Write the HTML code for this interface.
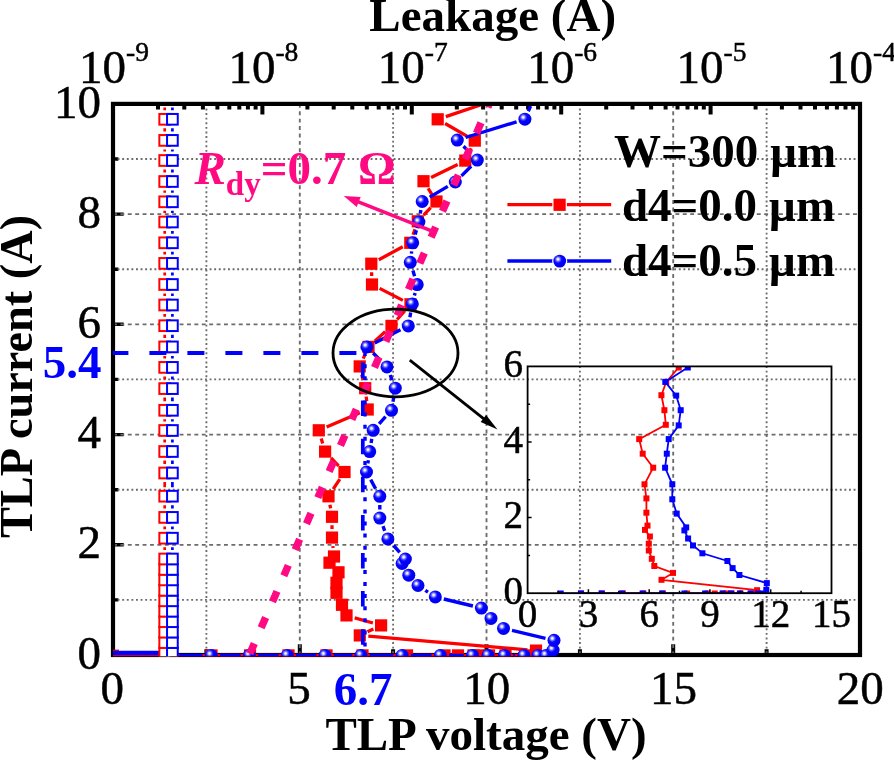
<!DOCTYPE html><html><head><meta charset="utf-8"><title>TLP</title><style>html,body{margin:0;padding:0;background:#fff}body{width:894px;height:761px;overflow:hidden}</style></head><body><svg width="894" height="761" viewBox="0 0 894 761" style="display:block">
<defs>
<radialGradient id="sph" cx="0.37" cy="0.36" r="0.55" fx="0.37" fy="0.35">
<stop offset="0" stop-color="#ffffff"/><stop offset="0.13" stop-color="#e6e6ff"/><stop offset="0.34" stop-color="#5a5aff"/><stop offset="0.55" stop-color="#0606ff"/><stop offset="1" stop-color="#0000f4"/>
</radialGradient>
<clipPath id="clip"><rect x="113" y="105.9" width="747" height="550.3"/></clipPath>
<clipPath id="iclip"><rect x="527.6" y="366.4" width="303.9" height="226.8"/></clipPath>
</defs>
<rect width="894" height="761" fill="#fff"/>
<path d="M299.8 655.0V644.3M486.5 655.0V644.3M673.2 655.0V644.3M206.4 655.0V649.3M393.1 655.0V649.3M579.9 655.0V649.3M766.6 655.0V649.3M158.0 103.9V109.60000000000001M184.3 103.9V109.60000000000001M202.9 103.9V109.60000000000001M217.4 103.9V109.60000000000001M229.3 103.9V109.60000000000001M239.3 103.9V109.60000000000001M247.9 103.9V109.60000000000001M255.6 103.9V109.60000000000001M262.4 103.9V114.60000000000001M307.4 103.9V109.60000000000001M333.7 103.9V109.60000000000001M352.3 103.9V109.60000000000001M366.8 103.9V109.60000000000001M378.7 103.9V109.60000000000001M388.7 103.9V109.60000000000001M397.3 103.9V109.60000000000001M405.0 103.9V109.60000000000001M411.8 103.9V114.60000000000001M456.8 103.9V109.60000000000001M483.1 103.9V109.60000000000001M501.7 103.9V109.60000000000001M516.2 103.9V109.60000000000001M528.1 103.9V109.60000000000001M538.1 103.9V109.60000000000001M546.7 103.9V109.60000000000001M554.4 103.9V109.60000000000001M561.2 103.9V114.60000000000001M606.2 103.9V109.60000000000001M632.5 103.9V109.60000000000001M651.1 103.9V109.60000000000001M665.6 103.9V109.60000000000001M677.5 103.9V109.60000000000001M687.5 103.9V109.60000000000001M696.1 103.9V109.60000000000001M703.8 103.9V109.60000000000001M710.6 103.9V114.60000000000001M755.6 103.9V109.60000000000001M781.9 103.9V109.60000000000001M800.5 103.9V109.60000000000001M815.0 103.9V109.60000000000001M826.9 103.9V109.60000000000001M836.9 103.9V109.60000000000001M845.5 103.9V109.60000000000001M853.2 103.9V109.60000000000001" stroke="#000" stroke-width="4" fill="none"/>
<path d="M113.0 544.8H123.7M113.0 434.6H123.7M113.0 324.3H123.7M113.0 214.1H123.7M113.0 599.9H118.4M113.0 489.7H118.4M113.0 379.4H118.4M113.0 269.2H118.4M113.0 159.0H118.4" stroke="#000" stroke-width="3.4" fill="none"/>
<g stroke="#6c6c6c" stroke-width="1.85" fill="none"><line x1="206.4" y1="103.9" x2="206.4" y2="655.0" stroke-dasharray="1.9 2.7"/><line x1="393.1" y1="103.9" x2="393.1" y2="655.0" stroke-dasharray="1.9 2.7"/><line x1="579.9" y1="103.9" x2="579.9" y2="655.0" stroke-dasharray="1.9 2.7"/><line x1="766.6" y1="103.9" x2="766.6" y2="655.0" stroke-dasharray="1.9 2.7"/><line x1="299.8" y1="103.9" x2="299.8" y2="655.0" stroke-dasharray="3.9 3.5"/><line x1="486.5" y1="103.9" x2="486.5" y2="655.0" stroke-dasharray="3.9 3.5"/><line x1="673.2" y1="103.9" x2="673.2" y2="655.0" stroke-dasharray="3.9 3.5"/><line x1="113.0" y1="599.9" x2="860.0" y2="599.9" stroke-dasharray="1.9 2.7"/><line x1="113.0" y1="489.7" x2="860.0" y2="489.7" stroke-dasharray="1.9 2.7"/><line x1="113.0" y1="379.4" x2="860.0" y2="379.4" stroke-dasharray="1.9 2.7"/><line x1="113.0" y1="269.2" x2="860.0" y2="269.2" stroke-dasharray="1.9 2.7"/><line x1="113.0" y1="159.0" x2="860.0" y2="159.0" stroke-dasharray="1.9 2.7"/><line x1="113.0" y1="544.8" x2="860.0" y2="544.8" stroke-dasharray="3.9 3.5"/><line x1="113.0" y1="434.6" x2="860.0" y2="434.6" stroke-dasharray="3.9 3.5"/><line x1="113.0" y1="324.3" x2="860.0" y2="324.3" stroke-dasharray="3.9 3.5"/><line x1="113.0" y1="214.1" x2="860.0" y2="214.1" stroke-dasharray="3.9 3.5"/></g>
<rect x="113.0" y="103.9" width="747.0" height="551.1" fill="none" stroke="#000" stroke-width="4.2"/>
<g clip-path="url(#clip)">
<path d="M113.0 655.4H540" stroke="#ff0000" stroke-width="3" />
<rect x="113.0" y="649.6" width="6" height="4" fill="#ff0000"/>
<path d="M113.0 653H162.6" stroke="#0000ff" stroke-width="4.6" />
<path d="M179.4 655.4H202.5" stroke="#0000ff" stroke-width="3.4" />
<path d="M164.7 107.4L164.7 110.3M164.7 128.3L164.7 131.4M164.7 149.4L164.7 151.5M164.7 169.5L164.7 172.5M164.7 190.5L164.7 192.8M164.7 210.8L164.7 213.0M164.7 231.0L164.7 233.8M164.7 251.8L164.7 254.4M164.7 272.4L164.7 275.5M164.7 293.5L164.7 296.0M164.7 314.0L164.7 316.7M164.7 334.7L164.7 337.9M164.7 355.9L164.7 358.4M164.7 376.4L164.7 379.6M164.7 397.6L164.7 401.3M164.7 419.3L164.7 421.5M164.7 439.5L164.7 442.5M164.7 460.5L164.7 464.0M164.7 482.0L164.7 487.2M164.7 505.2L164.7 508.4M164.7 526.4L164.7 529.2M164.7 547.2L164.7 550.0" stroke="#ff0000" stroke-width="2.7" fill="none"/>
<rect x="159.35" y="647.70" width="10.7" height="10.7" fill="#fff" stroke="#ff0000" stroke-width="2"/>
<rect x="159.35" y="637.25" width="10.7" height="10.7" fill="#fff" stroke="#ff0000" stroke-width="2"/>
<rect x="159.35" y="626.80" width="10.7" height="10.7" fill="#fff" stroke="#ff0000" stroke-width="2"/>
<rect x="159.35" y="616.35" width="10.7" height="10.7" fill="#fff" stroke="#ff0000" stroke-width="2"/>
<rect x="159.35" y="605.90" width="10.7" height="10.7" fill="#fff" stroke="#ff0000" stroke-width="2"/>
<rect x="159.35" y="595.45" width="10.7" height="10.7" fill="#fff" stroke="#ff0000" stroke-width="2"/>
<rect x="159.35" y="585.00" width="10.7" height="10.7" fill="#fff" stroke="#ff0000" stroke-width="2"/>
<rect x="159.35" y="574.55" width="10.7" height="10.7" fill="#fff" stroke="#ff0000" stroke-width="2"/>
<rect x="159.35" y="564.10" width="10.7" height="10.7" fill="#fff" stroke="#ff0000" stroke-width="2"/>
<rect x="159.35" y="553.65" width="10.7" height="10.7" fill="#fff" stroke="#ff0000" stroke-width="2"/>
<rect x="159.35" y="532.85" width="10.7" height="10.7" fill="#fff" stroke="#ff0000" stroke-width="2"/>
<rect x="159.35" y="512.05" width="10.7" height="10.7" fill="#fff" stroke="#ff0000" stroke-width="2"/>
<rect x="159.35" y="490.85" width="10.7" height="10.7" fill="#fff" stroke="#ff0000" stroke-width="2"/>
<rect x="159.35" y="467.65" width="10.7" height="10.7" fill="#fff" stroke="#ff0000" stroke-width="2"/>
<rect x="159.35" y="446.15" width="10.7" height="10.7" fill="#fff" stroke="#ff0000" stroke-width="2"/>
<rect x="159.35" y="425.15" width="10.7" height="10.7" fill="#fff" stroke="#ff0000" stroke-width="2"/>
<rect x="159.35" y="404.95" width="10.7" height="10.7" fill="#fff" stroke="#ff0000" stroke-width="2"/>
<rect x="159.35" y="383.25" width="10.7" height="10.7" fill="#fff" stroke="#ff0000" stroke-width="2"/>
<rect x="159.35" y="362.05" width="10.7" height="10.7" fill="#fff" stroke="#ff0000" stroke-width="2"/>
<rect x="159.35" y="341.55" width="10.7" height="10.7" fill="#fff" stroke="#ff0000" stroke-width="2"/>
<rect x="159.35" y="320.35" width="10.7" height="10.7" fill="#fff" stroke="#ff0000" stroke-width="2"/>
<rect x="159.35" y="299.65" width="10.7" height="10.7" fill="#fff" stroke="#ff0000" stroke-width="2"/>
<rect x="159.35" y="279.15" width="10.7" height="10.7" fill="#fff" stroke="#ff0000" stroke-width="2"/>
<rect x="159.35" y="258.05" width="10.7" height="10.7" fill="#fff" stroke="#ff0000" stroke-width="2"/>
<rect x="159.35" y="237.45" width="10.7" height="10.7" fill="#fff" stroke="#ff0000" stroke-width="2"/>
<rect x="159.35" y="216.65" width="10.7" height="10.7" fill="#fff" stroke="#ff0000" stroke-width="2"/>
<rect x="159.35" y="196.45" width="10.7" height="10.7" fill="#fff" stroke="#ff0000" stroke-width="2"/>
<rect x="159.35" y="176.15" width="10.7" height="10.7" fill="#fff" stroke="#ff0000" stroke-width="2"/>
<rect x="159.35" y="155.15" width="10.7" height="10.7" fill="#fff" stroke="#ff0000" stroke-width="2"/>
<rect x="159.35" y="135.05" width="10.7" height="10.7" fill="#fff" stroke="#ff0000" stroke-width="2"/>
<rect x="159.35" y="113.95" width="10.7" height="10.7" fill="#fff" stroke="#ff0000" stroke-width="2"/>
<rect x="159.35" y="93.05" width="10.7" height="10.7" fill="#fff" stroke="#ff0000" stroke-width="2"/>
<path d="M172.4 107.4L172.4 110.3M172.4 128.3L172.4 131.4M172.4 149.4L172.4 151.5M172.4 169.5L172.4 172.5M172.4 190.5L172.4 192.8M172.4 210.8L172.4 213.0M172.4 231.0L172.4 233.8M172.4 251.8L172.4 254.4M172.4 272.4L172.4 275.5M172.4 293.5L172.4 296.0M172.4 314.0L172.4 316.7M172.4 334.7L172.4 337.9M172.4 355.9L172.4 358.4M172.4 376.4L172.4 379.6M172.4 397.6L172.4 401.3M172.4 419.3L172.4 421.5M172.4 439.5L172.4 442.5M172.4 460.5L172.4 464.0M172.4 482.0L172.4 487.2M172.4 505.2L172.4 508.4M172.4 526.4L172.4 529.2M172.4 547.2L172.4 550.0" stroke="#0000ff" stroke-width="2.7" fill="none"/>
<rect x="167.05" y="647.70" width="10.7" height="10.7" fill="#fff" stroke="#0000ff" stroke-width="2"/>
<rect x="167.05" y="637.25" width="10.7" height="10.7" fill="#fff" stroke="#0000ff" stroke-width="2"/>
<rect x="167.05" y="626.80" width="10.7" height="10.7" fill="#fff" stroke="#0000ff" stroke-width="2"/>
<rect x="167.05" y="616.35" width="10.7" height="10.7" fill="#fff" stroke="#0000ff" stroke-width="2"/>
<rect x="167.05" y="605.90" width="10.7" height="10.7" fill="#fff" stroke="#0000ff" stroke-width="2"/>
<rect x="167.05" y="595.45" width="10.7" height="10.7" fill="#fff" stroke="#0000ff" stroke-width="2"/>
<rect x="167.05" y="585.00" width="10.7" height="10.7" fill="#fff" stroke="#0000ff" stroke-width="2"/>
<rect x="167.05" y="574.55" width="10.7" height="10.7" fill="#fff" stroke="#0000ff" stroke-width="2"/>
<rect x="167.05" y="564.10" width="10.7" height="10.7" fill="#fff" stroke="#0000ff" stroke-width="2"/>
<rect x="167.05" y="553.65" width="10.7" height="10.7" fill="#fff" stroke="#0000ff" stroke-width="2"/>
<rect x="167.05" y="532.85" width="10.7" height="10.7" fill="#fff" stroke="#0000ff" stroke-width="2"/>
<rect x="167.05" y="512.05" width="10.7" height="10.7" fill="#fff" stroke="#0000ff" stroke-width="2"/>
<rect x="167.05" y="490.85" width="10.7" height="10.7" fill="#fff" stroke="#0000ff" stroke-width="2"/>
<rect x="167.05" y="467.65" width="10.7" height="10.7" fill="#fff" stroke="#0000ff" stroke-width="2"/>
<rect x="167.05" y="446.15" width="10.7" height="10.7" fill="#fff" stroke="#0000ff" stroke-width="2"/>
<rect x="167.05" y="425.15" width="10.7" height="10.7" fill="#fff" stroke="#0000ff" stroke-width="2"/>
<rect x="167.05" y="404.95" width="10.7" height="10.7" fill="#fff" stroke="#0000ff" stroke-width="2"/>
<rect x="167.05" y="383.25" width="10.7" height="10.7" fill="#fff" stroke="#0000ff" stroke-width="2"/>
<rect x="167.05" y="362.05" width="10.7" height="10.7" fill="#fff" stroke="#0000ff" stroke-width="2"/>
<rect x="167.05" y="341.55" width="10.7" height="10.7" fill="#fff" stroke="#0000ff" stroke-width="2"/>
<rect x="167.05" y="320.35" width="10.7" height="10.7" fill="#fff" stroke="#0000ff" stroke-width="2"/>
<rect x="167.05" y="299.65" width="10.7" height="10.7" fill="#fff" stroke="#0000ff" stroke-width="2"/>
<rect x="167.05" y="279.15" width="10.7" height="10.7" fill="#fff" stroke="#0000ff" stroke-width="2"/>
<rect x="167.05" y="258.05" width="10.7" height="10.7" fill="#fff" stroke="#0000ff" stroke-width="2"/>
<rect x="167.05" y="237.45" width="10.7" height="10.7" fill="#fff" stroke="#0000ff" stroke-width="2"/>
<rect x="167.05" y="216.65" width="10.7" height="10.7" fill="#fff" stroke="#0000ff" stroke-width="2"/>
<rect x="167.05" y="196.45" width="10.7" height="10.7" fill="#fff" stroke="#0000ff" stroke-width="2"/>
<rect x="167.05" y="176.15" width="10.7" height="10.7" fill="#fff" stroke="#0000ff" stroke-width="2"/>
<rect x="167.05" y="155.15" width="10.7" height="10.7" fill="#fff" stroke="#0000ff" stroke-width="2"/>
<rect x="167.05" y="135.05" width="10.7" height="10.7" fill="#fff" stroke="#0000ff" stroke-width="2"/>
<rect x="167.05" y="113.95" width="10.7" height="10.7" fill="#fff" stroke="#0000ff" stroke-width="2"/>
<rect x="167.05" y="93.05" width="10.7" height="10.7" fill="#fff" stroke="#0000ff" stroke-width="2"/>
<path d="M491.9 101.1L445.8 116.6M445.1 123.5L467.4 136.4M471.2 148.3L468.9 152.9M457.7 164.4L431.1 177.4M428.1 188.4L431.9 194.3M430.7 207.7L423.6 215.1M415.0 229.3L413.1 234.8M402.8 246.8L378.8 259.7M371.6 272.2L371.7 276.0M379.6 288.4L402.9 300.4M404.9 310.7L397.1 319.5M385.2 331.6L374.8 341.2M365.0 354.6L363.2 358.7M361.8 374.6L363.1 380.0M366.2 396.6L366.7 401.1M359.9 412.8L326.6 427.0M321.2 438.5L322.7 443.4M331.0 457.8L338.6 465.8M339.8 479.1L333.2 489.2M329.9 504.7L330.6 508.4M332.0 525.3L332.0 529.1M332.9 546.1L333.1 548.0M354.7 617.8L372.9 623.0M373.4 629.0L367.5 631.8M368.3 636.1L527.5 649.9M516.5 655.4L514.0 655.4M436.0 655.4L415.5 655.4M398.5 655.4L371.0 655.4M354.0 655.4L335.0 655.4M318.0 655.4L297.0 655.4M280.0 655.4L258.5 655.4M241.5 655.4L220.0 655.4" stroke="#ff0000" stroke-width="3.3" fill="none"/>
<rect x="205.4" y="649.3" width="12.2" height="12.2" fill="#ff0000"/>
<rect x="243.9" y="649.3" width="12.2" height="12.2" fill="#ff0000"/>
<rect x="282.4" y="649.3" width="12.2" height="12.2" fill="#ff0000"/>
<rect x="320.4" y="649.3" width="12.2" height="12.2" fill="#ff0000"/>
<rect x="356.4" y="649.3" width="12.2" height="12.2" fill="#ff0000"/>
<rect x="400.9" y="649.3" width="12.2" height="12.2" fill="#ff0000"/>
<rect x="438.4" y="649.3" width="12.2" height="12.2" fill="#ff0000"/>
<rect x="451.9" y="649.3" width="12.2" height="12.2" fill="#ff0000"/>
<rect x="467.4" y="649.3" width="12.2" height="12.2" fill="#ff0000"/>
<rect x="473.9" y="649.3" width="12.2" height="12.2" fill="#ff0000"/>
<rect x="482.9" y="649.3" width="12.2" height="12.2" fill="#ff0000"/>
<rect x="499.4" y="649.3" width="12.2" height="12.2" fill="#ff0000"/>
<rect x="518.9" y="649.3" width="12.2" height="12.2" fill="#ff0000"/>
<rect x="529.9" y="644.5" width="12.2" height="12.2" fill="#ff0000"/>
<rect x="353.7" y="629.3" width="12.2" height="12.2" fill="#ff0000"/>
<rect x="375.0" y="619.3" width="12.2" height="12.2" fill="#ff0000"/>
<rect x="340.4" y="609.3" width="12.2" height="12.2" fill="#ff0000"/>
<rect x="335.9" y="598.7" width="12.2" height="12.2" fill="#ff0000"/>
<rect x="330.4" y="586.7" width="12.2" height="12.2" fill="#ff0000"/>
<rect x="330.4" y="576.7" width="12.2" height="12.2" fill="#ff0000"/>
<rect x="332.4" y="566.2" width="12.2" height="12.2" fill="#ff0000"/>
<rect x="323.4" y="556.6" width="12.2" height="12.2" fill="#ff0000"/>
<rect x="327.9" y="550.4" width="12.2" height="12.2" fill="#ff0000"/>
<rect x="325.9" y="531.5" width="12.2" height="12.2" fill="#ff0000"/>
<rect x="325.9" y="510.7" width="12.2" height="12.2" fill="#ff0000"/>
<rect x="322.4" y="490.2" width="12.2" height="12.2" fill="#ff0000"/>
<rect x="338.4" y="465.9" width="12.2" height="12.2" fill="#ff0000"/>
<rect x="319.0" y="445.5" width="12.2" height="12.2" fill="#ff0000"/>
<rect x="312.7" y="424.2" width="12.2" height="12.2" fill="#ff0000"/>
<rect x="361.6" y="403.4" width="12.2" height="12.2" fill="#ff0000"/>
<rect x="359.1" y="382.1" width="12.2" height="12.2" fill="#ff0000"/>
<rect x="353.6" y="360.3" width="12.2" height="12.2" fill="#ff0000"/>
<rect x="362.4" y="340.8" width="12.2" height="12.2" fill="#ff0000"/>
<rect x="385.4" y="319.8" width="12.2" height="12.2" fill="#ff0000"/>
<rect x="404.4" y="298.2" width="12.2" height="12.2" fill="#ff0000"/>
<rect x="365.9" y="278.4" width="12.2" height="12.2" fill="#ff0000"/>
<rect x="365.2" y="257.6" width="12.2" height="12.2" fill="#ff0000"/>
<rect x="404.2" y="236.7" width="12.2" height="12.2" fill="#ff0000"/>
<rect x="411.7" y="215.2" width="12.2" height="12.2" fill="#ff0000"/>
<rect x="430.4" y="195.4" width="12.2" height="12.2" fill="#ff0000"/>
<rect x="417.4" y="175.1" width="12.2" height="12.2" fill="#ff0000"/>
<rect x="459.2" y="154.5" width="12.2" height="12.2" fill="#ff0000"/>
<rect x="468.7" y="134.5" width="12.2" height="12.2" fill="#ff0000"/>
<rect x="431.6" y="113.2" width="12.2" height="12.2" fill="#ff0000"/>
<rect x="493.9" y="92.3" width="12.2" height="12.2" fill="#ff0000"/>
<path d="M111.4 353H363" stroke="#0000ff" stroke-width="4.2" stroke-dasharray="17 21" fill="none"/>
<path d="M362.8 362.5V655.0" stroke="#0000ff" stroke-width="3.7" stroke-dasharray="15.5 22.6" fill="none"/>
<path d="M365 352.1V655.0" stroke="#0000ff" stroke-width="3.4" stroke-dasharray="4 8.1" fill="none"/>
<path d="M530.6 106.0L528.3 111.2M516.6 121.8L465.6 137.5M463.5 146.3L471.1 153.9M471.1 166.2L461.5 175.9M447.8 186.4L429.7 197.1M420.8 210.1L420.3 213.4M416.4 230.3L415.2 234.5M411.6 251.4L411.4 253.7M412.9 270.6L414.6 276.3M415.1 293.0L414.4 295.5M410.7 312.5L409.9 317.3M400.5 329.8L374.7 343.0M373.1 353.0L380.8 360.8M390.2 375.0L392.1 380.1M393.8 396.8L393.0 401.7M385.6 416.7L379.1 423.9M371.8 438.9L371.1 443.0M368.4 460.2L367.8 463.4M370.7 479.6L375.6 488.7M379.8 505.0L379.8 509.4M383.0 526.2L384.7 530.8M393.6 545.5L399.7 552.4M425.3 590.3L428.0 592.1M443.8 599.0L472.9 606.0M512.0 630.4L545.5 638.3M515.2 655.4L513.1 655.4M463.8 655.4L449.0 655.4M431.6 655.4L410.8 655.4M393.4 655.4L369.7 655.4M352.3 655.4L333.7 655.4M316.3 655.4L296.0 655.4M278.6 655.4L258.1 655.4M240.7 655.4L219.9 655.4" stroke="#0000ff" stroke-width="3.4" fill="none"/>
<circle cx="211.2" cy="655.4" r="6.5" fill="url(#sph)"/>
<circle cx="249.4" cy="655.4" r="6.5" fill="url(#sph)"/>
<circle cx="287.3" cy="655.4" r="6.5" fill="url(#sph)"/>
<circle cx="325.0" cy="655.4" r="6.5" fill="url(#sph)"/>
<circle cx="361.0" cy="655.4" r="6.5" fill="url(#sph)"/>
<circle cx="402.1" cy="655.4" r="6.5" fill="url(#sph)"/>
<circle cx="440.3" cy="655.4" r="6.5" fill="url(#sph)"/>
<circle cx="472.5" cy="655.4" r="6.5" fill="url(#sph)"/>
<circle cx="488.0" cy="655.4" r="6.5" fill="url(#sph)"/>
<circle cx="504.4" cy="655.4" r="6.5" fill="url(#sph)"/>
<circle cx="523.9" cy="655.4" r="6.5" fill="url(#sph)"/>
<circle cx="538.0" cy="655.4" r="6.5" fill="url(#sph)"/>
<circle cx="546.0" cy="655.4" r="6.5" fill="url(#sph)"/>
<circle cx="553.1" cy="650.0" r="6.5" fill="url(#sph)"/>
<circle cx="554.0" cy="640.3" r="6.5" fill="url(#sph)"/>
<circle cx="503.5" cy="628.4" r="6.5" fill="url(#sph)"/>
<circle cx="491.0" cy="618.4" r="6.5" fill="url(#sph)"/>
<circle cx="481.4" cy="608.1" r="6.5" fill="url(#sph)"/>
<circle cx="435.3" cy="596.9" r="6.5" fill="url(#sph)"/>
<circle cx="418.0" cy="585.5" r="6.5" fill="url(#sph)"/>
<circle cx="408.8" cy="575.2" r="6.5" fill="url(#sph)"/>
<circle cx="402.1" cy="563.5" r="6.5" fill="url(#sph)"/>
<circle cx="405.4" cy="559.0" r="6.5" fill="url(#sph)"/>
<circle cx="387.9" cy="538.9" r="6.5" fill="url(#sph)"/>
<circle cx="379.8" cy="518.1" r="6.5" fill="url(#sph)"/>
<circle cx="379.8" cy="496.3" r="6.5" fill="url(#sph)"/>
<circle cx="366.5" cy="472.0" r="6.5" fill="url(#sph)"/>
<circle cx="369.7" cy="451.6" r="6.5" fill="url(#sph)"/>
<circle cx="373.2" cy="430.3" r="6.5" fill="url(#sph)"/>
<circle cx="391.5" cy="410.3" r="6.5" fill="url(#sph)"/>
<circle cx="395.3" cy="388.2" r="6.5" fill="url(#sph)"/>
<circle cx="387.0" cy="366.9" r="6.5" fill="url(#sph)"/>
<circle cx="366.9" cy="346.9" r="6.5" fill="url(#sph)"/>
<circle cx="408.3" cy="325.9" r="6.5" fill="url(#sph)"/>
<circle cx="412.3" cy="303.9" r="6.5" fill="url(#sph)"/>
<circle cx="417.2" cy="284.6" r="6.5" fill="url(#sph)"/>
<circle cx="410.3" cy="262.3" r="6.5" fill="url(#sph)"/>
<circle cx="412.7" cy="242.8" r="6.5" fill="url(#sph)"/>
<circle cx="418.9" cy="222.0" r="6.5" fill="url(#sph)"/>
<circle cx="422.2" cy="201.5" r="6.5" fill="url(#sph)"/>
<circle cx="455.3" cy="182.0" r="6.5" fill="url(#sph)"/>
<circle cx="477.3" cy="160.1" r="6.5" fill="url(#sph)"/>
<circle cx="457.3" cy="140.1" r="6.5" fill="url(#sph)"/>
<circle cx="524.9" cy="119.2" r="6.5" fill="url(#sph)"/>
<circle cx="534.0" cy="98.0" r="6.5" fill="url(#sph)"/>
<path d="M249.3 655.0L489.2 104.0" stroke="#ff0a82" stroke-width="7.4" stroke-dasharray="11.3 17.09" stroke-dashoffset="-1.3" fill="none"/>
</g>
<path d="M433.4 231.7L357.7 201.6" stroke="#ff0a82" stroke-width="3.6" fill="none"/><path d="M343.8 196.1L360.7 197.0L358.7 202.0L356.7 207.0Z" fill="#ff0a82"/>
<ellipse cx="395.5" cy="353" rx="62.5" ry="43.8" fill="none" stroke="#000" stroke-width="2.8"/>
<path d="M409.8 360.2L484.2 419.1" stroke="#000" stroke-width="2.8" fill="none"/><path d="M497.5 429.6L480.7 421.9L483.4 418.4L486.1 415.0Z" fill="#000"/>
<g clip-path="url(#iclip)">
<path d="M737.5 211.4L703.7 225.8L723.9 240.4L718.7 254.1L696.0 268.2L703.1 282.1L692.9 295.7L688.9 310.5L667.7 324.8L668.1 339.1L689.0 352.7L678.7 367.5L666.2 381.9L661.4 395.2L664.4 410.2L665.8 424.8L639.2 439.1L642.7 453.7L653.2 467.7L644.5 484.3L646.4 498.4L646.4 512.7L647.5 525.6L645.0 529.9L649.9 536.5L648.8 543.7L648.8 550.5L651.8 558.8L654.3 566.0L673.0 572.9L661.5 579.8L757.1 590.2L751.1 593.5L740.5 593.5L731.6 593.5L726.7 593.5L723.1 593.5L714.7 593.5L707.4 593.5L687.1 593.5L662.9 593.5L643.4 593.5L622.8 593.5L601.9 593.5L581.0 593.5" stroke="#ff0000" stroke-width="1.8" fill="none"/>
<rect x="734.5" y="208.4" width="6" height="6" fill="#ff0000"/>
<rect x="700.7" y="222.8" width="6" height="6" fill="#ff0000"/>
<rect x="720.9" y="237.4" width="6" height="6" fill="#ff0000"/>
<rect x="715.7" y="251.1" width="6" height="6" fill="#ff0000"/>
<rect x="693.0" y="265.2" width="6" height="6" fill="#ff0000"/>
<rect x="700.1" y="279.1" width="6" height="6" fill="#ff0000"/>
<rect x="689.9" y="292.7" width="6" height="6" fill="#ff0000"/>
<rect x="685.9" y="307.5" width="6" height="6" fill="#ff0000"/>
<rect x="664.7" y="321.8" width="6" height="6" fill="#ff0000"/>
<rect x="665.1" y="336.1" width="6" height="6" fill="#ff0000"/>
<rect x="686.0" y="349.7" width="6" height="6" fill="#ff0000"/>
<rect x="675.7" y="364.5" width="6" height="6" fill="#ff0000"/>
<rect x="663.2" y="378.9" width="6" height="6" fill="#ff0000"/>
<rect x="658.4" y="392.2" width="6" height="6" fill="#ff0000"/>
<rect x="661.4" y="407.2" width="6" height="6" fill="#ff0000"/>
<rect x="662.8" y="421.8" width="6" height="6" fill="#ff0000"/>
<rect x="636.2" y="436.1" width="6" height="6" fill="#ff0000"/>
<rect x="639.7" y="450.7" width="6" height="6" fill="#ff0000"/>
<rect x="650.2" y="464.7" width="6" height="6" fill="#ff0000"/>
<rect x="641.5" y="481.3" width="6" height="6" fill="#ff0000"/>
<rect x="643.4" y="495.4" width="6" height="6" fill="#ff0000"/>
<rect x="643.4" y="509.7" width="6" height="6" fill="#ff0000"/>
<rect x="644.5" y="522.6" width="6" height="6" fill="#ff0000"/>
<rect x="642.0" y="526.9" width="6" height="6" fill="#ff0000"/>
<rect x="646.9" y="533.5" width="6" height="6" fill="#ff0000"/>
<rect x="645.8" y="540.7" width="6" height="6" fill="#ff0000"/>
<rect x="645.8" y="547.5" width="6" height="6" fill="#ff0000"/>
<rect x="648.8" y="555.8" width="6" height="6" fill="#ff0000"/>
<rect x="651.3" y="563.0" width="6" height="6" fill="#ff0000"/>
<rect x="670.0" y="569.9" width="6" height="6" fill="#ff0000"/>
<rect x="658.5" y="576.8" width="6" height="6" fill="#ff0000"/>
<rect x="754.1" y="587.2" width="6" height="6" fill="#ff0000"/>
<rect x="748.1" y="590.5" width="6" height="6" fill="#ff0000"/>
<rect x="737.5" y="590.5" width="6" height="6" fill="#ff0000"/>
<rect x="728.6" y="590.5" width="6" height="6" fill="#ff0000"/>
<rect x="723.7" y="590.5" width="6" height="6" fill="#ff0000"/>
<rect x="720.1" y="590.5" width="6" height="6" fill="#ff0000"/>
<rect x="711.7" y="590.5" width="6" height="6" fill="#ff0000"/>
<rect x="704.4" y="590.5" width="6" height="6" fill="#ff0000"/>
<rect x="684.1" y="590.5" width="6" height="6" fill="#ff0000"/>
<rect x="659.9" y="590.5" width="6" height="6" fill="#ff0000"/>
<rect x="640.4" y="590.5" width="6" height="6" fill="#ff0000"/>
<rect x="619.8" y="590.5" width="6" height="6" fill="#ff0000"/>
<rect x="598.9" y="590.5" width="6" height="6" fill="#ff0000"/>
<rect x="578.0" y="590.5" width="6" height="6" fill="#ff0000"/>
<path d="M756.0 211.2L751.0 225.7L714.4 240.0L725.2 253.7L713.3 268.8L695.3 282.1L693.5 296.2L690.2 310.5L688.9 323.8L692.6 339.1L690.0 352.4L687.8 367.5L665.3 381.9L676.2 395.6L680.7 410.2L678.7 425.4L668.7 439.1L666.8 453.7L665.1 467.7L672.3 484.3L672.3 499.3L676.7 513.6L686.2 527.4L684.4 530.4L688.1 538.5L693.0 545.5L702.4 553.3L727.4 561.0L732.6 568.1L739.4 575.0L766.8 583.1L766.3 589.8L762.5 593.5L758.1 593.5L750.5 593.5L739.9 593.5L731.0 593.5L722.6 593.5L705.1 593.5L684.4 593.5L662.1 593.5L642.6 593.5L622.1 593.5L601.6 593.5L580.9 593.5L560.7 593.5" stroke="#0000ff" stroke-width="1.8" fill="none"/>
<rect x="753.0" y="208.2" width="6" height="6" fill="#0000ff"/>
<rect x="748.0" y="222.7" width="6" height="6" fill="#0000ff"/>
<rect x="711.4" y="237.0" width="6" height="6" fill="#0000ff"/>
<rect x="722.2" y="250.7" width="6" height="6" fill="#0000ff"/>
<rect x="710.3" y="265.8" width="6" height="6" fill="#0000ff"/>
<rect x="692.3" y="279.1" width="6" height="6" fill="#0000ff"/>
<rect x="690.5" y="293.2" width="6" height="6" fill="#0000ff"/>
<rect x="687.2" y="307.5" width="6" height="6" fill="#0000ff"/>
<rect x="685.9" y="320.8" width="6" height="6" fill="#0000ff"/>
<rect x="689.6" y="336.1" width="6" height="6" fill="#0000ff"/>
<rect x="687.0" y="349.4" width="6" height="6" fill="#0000ff"/>
<rect x="684.8" y="364.5" width="6" height="6" fill="#0000ff"/>
<rect x="662.3" y="378.9" width="6" height="6" fill="#0000ff"/>
<rect x="673.2" y="392.6" width="6" height="6" fill="#0000ff"/>
<rect x="677.7" y="407.2" width="6" height="6" fill="#0000ff"/>
<rect x="675.7" y="422.4" width="6" height="6" fill="#0000ff"/>
<rect x="665.7" y="436.1" width="6" height="6" fill="#0000ff"/>
<rect x="663.8" y="450.7" width="6" height="6" fill="#0000ff"/>
<rect x="662.1" y="464.7" width="6" height="6" fill="#0000ff"/>
<rect x="669.3" y="481.3" width="6" height="6" fill="#0000ff"/>
<rect x="669.3" y="496.3" width="6" height="6" fill="#0000ff"/>
<rect x="673.7" y="510.6" width="6" height="6" fill="#0000ff"/>
<rect x="683.2" y="524.4" width="6" height="6" fill="#0000ff"/>
<rect x="681.4" y="527.4" width="6" height="6" fill="#0000ff"/>
<rect x="685.1" y="535.5" width="6" height="6" fill="#0000ff"/>
<rect x="690.0" y="542.5" width="6" height="6" fill="#0000ff"/>
<rect x="699.4" y="550.3" width="6" height="6" fill="#0000ff"/>
<rect x="724.4" y="558.0" width="6" height="6" fill="#0000ff"/>
<rect x="729.6" y="565.1" width="6" height="6" fill="#0000ff"/>
<rect x="736.4" y="572.0" width="6" height="6" fill="#0000ff"/>
<rect x="763.8" y="580.1" width="6" height="6" fill="#0000ff"/>
<rect x="763.3" y="586.8" width="6" height="6" fill="#0000ff"/>
<rect x="759.5" y="590.5" width="6" height="6" fill="#0000ff"/>
<rect x="755.1" y="590.5" width="6" height="6" fill="#0000ff"/>
<rect x="747.5" y="590.5" width="6" height="6" fill="#0000ff"/>
<rect x="736.9" y="590.5" width="6" height="6" fill="#0000ff"/>
<rect x="728.0" y="590.5" width="6" height="6" fill="#0000ff"/>
<rect x="719.6" y="590.5" width="6" height="6" fill="#0000ff"/>
<rect x="702.1" y="590.5" width="6" height="6" fill="#0000ff"/>
<rect x="681.4" y="590.5" width="6" height="6" fill="#0000ff"/>
<rect x="659.1" y="590.5" width="6" height="6" fill="#0000ff"/>
<rect x="639.6" y="590.5" width="6" height="6" fill="#0000ff"/>
<rect x="619.1" y="590.5" width="6" height="6" fill="#0000ff"/>
<rect x="598.6" y="590.5" width="6" height="6" fill="#0000ff"/>
<rect x="577.9" y="590.5" width="6" height="6" fill="#0000ff"/>
<rect x="557.7" y="590.5" width="6" height="6" fill="#0000ff"/>
</g>
<path d="M588.4 593.2v-4M649.2 593.2v-4M709.9 593.2v-4M770.7 593.2v-4M558.0 593.2v-2.5M618.8 593.2v-2.5M679.5 593.2v-2.5M740.3 593.2v-2.5M801.1 593.2v-2.5M527.6 517.6h4M527.6 442.0h4M527.6 555.4h2.5M527.6 479.8h2.5M527.6 404.2h2.5" stroke="#000" stroke-width="1.5" fill="none"/>
<rect x="527.6" y="366.4" width="303.9" height="226.80000000000007" fill="none" stroke="#000" stroke-width="1.8"/>
<path d="M507.4 204.6H611.2" stroke="#ff0000" stroke-width="3.4"/>
<rect x="552.3" y="197.5" width="14.6" height="14.6" fill="#fff"/><rect x="553.5" y="198.7" width="12.2" height="12.2" fill="#ff0000"/>
<path d="M507.4 261H611.2" stroke="#0000ff" stroke-width="3.4"/>
<circle cx="559.7" cy="261.1" r="7.6" fill="#fff"/><circle cx="559.7" cy="261.1" r="6.4" fill="url(#sph)"/>
<g font-family="Liberation Serif, Times New Roman, serif" fill="#000">
<text x="492.7" y="31.2" font-size="47" font-weight="bold" text-anchor="middle">Leakage (A)</text>
<text x="486" y="750.2" font-size="47" font-weight="bold" text-anchor="middle">TLP voltage (V)</text>
<text transform="translate(32 376.5) rotate(-90)" font-size="46.3" font-weight="bold" text-anchor="middle">TLP current (A)</text>
<text stroke="#000" stroke-width="0.5" x="79.0" y="82.6" font-size="47">10<tspan font-size="27.5" dy="-22">-9</tspan></text>
<text stroke="#000" stroke-width="0.5" x="228.4" y="82.6" font-size="47">10<tspan font-size="27.5" dy="-22">-8</tspan></text>
<text stroke="#000" stroke-width="0.5" x="377.8" y="82.6" font-size="47">10<tspan font-size="27.5" dy="-22">-7</tspan></text>
<text stroke="#000" stroke-width="0.5" x="527.2" y="82.6" font-size="47">10<tspan font-size="27.5" dy="-22">-6</tspan></text>
<text stroke="#000" stroke-width="0.5" x="676.6" y="82.6" font-size="47">10<tspan font-size="27.5" dy="-22">-5</tspan></text>
<text stroke="#000" stroke-width="0.5" x="826.0" y="82.6" font-size="47">10<tspan font-size="27.5" dy="-22">-4</tspan></text>
<text stroke="#000" stroke-width="0.5" x="112.3" y="703.6" font-size="47" text-anchor="middle">0</text>
<text stroke="#000" stroke-width="0.5" x="299.1" y="703.6" font-size="47" text-anchor="middle">5</text>
<text stroke="#000" stroke-width="0.5" x="486.8" y="703.6" font-size="47" text-anchor="middle">10</text>
<text stroke="#000" stroke-width="0.5" x="673.5" y="703.6" font-size="47" text-anchor="middle">15</text>
<text stroke="#000" stroke-width="0.5" x="860.3" y="703.6" font-size="47" text-anchor="middle">20</text>
<text stroke="#000" stroke-width="0.5" x="101" y="668.6" font-size="47" text-anchor="end">0</text>
<text stroke="#000" stroke-width="0.5" x="101" y="558.4" font-size="47" text-anchor="end">2</text>
<text stroke="#000" stroke-width="0.5" x="101" y="448.2" font-size="47" text-anchor="end">4</text>
<text stroke="#000" stroke-width="0.5" x="101" y="337.9" font-size="47" text-anchor="end">6</text>
<text stroke="#000" stroke-width="0.5" x="101" y="227.7" font-size="47" text-anchor="end">8</text>
<text stroke="#000" stroke-width="0.5" x="101" y="117.5" font-size="47" text-anchor="end">10</text>
<text stroke="#000" stroke-width="0.5" x="527.6" y="626.6" font-size="39" text-anchor="middle">0</text>
<text stroke="#000" stroke-width="0.5" x="588.4" y="626.6" font-size="39" text-anchor="middle">3</text>
<text stroke="#000" stroke-width="0.5" x="649.2" y="626.6" font-size="39" text-anchor="middle">6</text>
<text stroke="#000" stroke-width="0.5" x="709.9" y="626.6" font-size="39" text-anchor="middle">9</text>
<text stroke="#000" stroke-width="0.5" x="770.7" y="626.6" font-size="39" text-anchor="middle">12</text>
<text stroke="#000" stroke-width="0.5" x="831.5" y="626.6" font-size="39" text-anchor="middle">15</text>
<text stroke="#000" stroke-width="0.5" x="523" y="603.8" font-size="39" text-anchor="end">0</text>
<text stroke="#000" stroke-width="0.5" x="523" y="528.2" font-size="39" text-anchor="end">2</text>
<text stroke="#000" stroke-width="0.5" x="523" y="452.6" font-size="39" text-anchor="end">4</text>
<text stroke="#000" stroke-width="0.5" x="523" y="377.0" font-size="39" text-anchor="end">6</text>
<text x="101.5" y="377.6" font-size="47" font-weight="bold" fill="#0000ff" text-anchor="end">5.4</text>
<text x="363.1" y="704.7" font-size="47" font-weight="bold" fill="#0000ff" text-anchor="middle">6.7</text>
<text x="836.2" y="167.3" font-size="47" font-weight="bold" text-anchor="end">W=300 µm</text>
<text x="835.1" y="220.5" font-size="47" font-weight="bold" text-anchor="end">d4=0.0 µm</text>
<text x="835.1" y="276.1" font-size="47" font-weight="bold" text-anchor="end">d4=0.5 µm</text>
<text x="194.5" y="184.4" font-size="47" font-weight="bold" fill="#ff0a82"><tspan font-style="italic">R</tspan><tspan font-size="33" dy="10.5">dy</tspan><tspan dy="-10.5">=0.7 Ω</tspan></text>
</g>
</svg></body></html>
